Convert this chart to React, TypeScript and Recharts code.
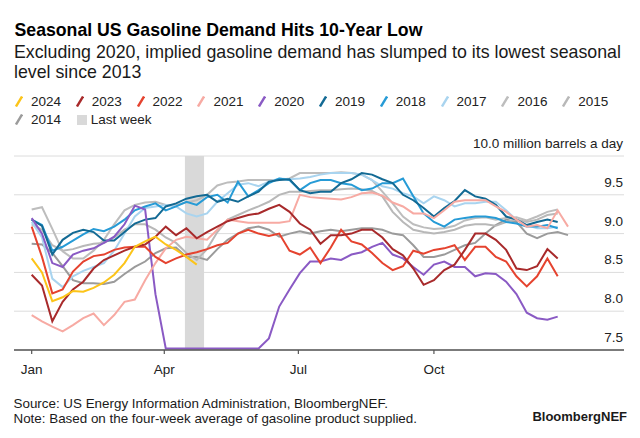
import React from 'react';
import { LineChart, Line, XAxis, YAxis, CartesianGrid, ReferenceArea } from 'recharts';

const FONT = '"Liberation Sans", Arial, Helvetica, sans-serif';

const monthTicks = [0, 90, 181, 273];
const monthLabels = ['Jan', 'Apr', 'Jul', 'Oct'];
const valueTicks = [7.5, 8, 8.5, 9, 9.5, 10];
const valueTickLabels = ['7.5', '8.0', '8.5', '9.0', '9.5', '10.0 million barrels a day'];
const lastWeekStart = 104;
const lastWeekEnd = 117;

const d2024 = [8.68, 8.5, 8.13, 8.18, 8.26, 8.25, 8.3, 8.37, 8.47, 8.62, 8.83, 8.9, 8.96, 8.86, 8.79, 8.7, 8.6];
const d2023 = [
  8.47, 8.33, 7.87, 8.12, 8.28, 8.38, 8.55, 8.66, 8.72, 8.78, 8.83,
  8.86, 8.96, 9.09, 8.98, 9.07, 8.94, 9.02, 9.09, 9.16, 9.2,
  9.24, 9.26, 9.32, 9.37, 9.28, 9.13, 9.05, 8.87, 8.98, 8.98,
  9.0, 9.05, 9.05, 8.95, 8.8, 8.72, 8.55, 8.34, 8.4, 8.53,
  8.6, 8.79, 9.0, 9.0, 8.92, 8.79, 8.55, 8.53, 8.58, 8.8, 8.68,
];
const d2022 = [
  9.09, 8.7, 8.23, 8.28, 8.51, 8.64, 8.71, 8.73, 8.79, 8.82, 8.83,
  8.83, 8.7, 8.62, 8.68, 8.73, 8.76, 8.8, 8.85, 8.88, 9.0,
  9.05, 9.0, 8.97, 9.0, 8.78, 8.73, 8.82, 8.62, 8.82, 9.05,
  8.9, 8.86, 8.75, 8.62, 8.53, 8.58, 8.78, 8.74, 8.79, 8.81,
  8.85, 8.66, 8.83, 8.83, 8.7, 8.64, 8.45, 8.32, 8.45, 8.68, 8.45,
];
const d2021 = [
  7.95, 7.87, 7.8, 7.74, 7.82, 7.91, 7.97, 7.82, 7.95, 8.12, 8.15,
  8.4, 8.62, 8.81, 8.92, 8.96, 8.94, 8.92, 9.05, 9.18, 9.16,
  9.14, 9.14, 9.14, 9.14, 9.16, 9.5, 9.47, 9.46, 9.45, 9.44,
  9.47, 9.52, 9.53, 9.49, 9.4, 9.35, 9.26, 9.26, 9.2, 9.3,
  9.41, 9.43, 9.43, 9.43, 9.35, 9.28, 9.18, 9.09, 9.11, 9.07, 9.3, 9.09,
];
const d2020 = [
  9.2, 9.0, 8.62, 8.57, 8.73, 8.78, 8.81, 8.88, 8.96, 9.12, 9.36,
  9.31, 8.22, 7.52, 7.52, 7.52, 7.52, 7.52, 7.52, 7.52, 7.52,
  7.52, 7.52, 7.65, 8.06, 8.28, 8.49, 8.64, 8.64, 8.68, 8.66,
  8.73, 8.76, 8.83, 8.88, 8.73, 8.68, 8.57, 8.47, 8.6, 8.64,
  8.57, 8.57, 8.45, 8.49, 8.48, 8.38, 8.22, 7.98, 7.91, 7.89, 7.93,
];
const d2019 = [
  9.18, 9.1, 8.73, 8.92, 9.01, 9.05, 9.02, 8.91, 8.91, 9.02, 9.13,
  9.18, 9.2, 9.35, 9.39, 9.45, 9.48, 9.5, 9.41, 9.45, 9.41,
  9.48, 9.54, 9.67, 9.69, 9.7, 9.56, 9.52, 9.54, 9.54, 9.65,
  9.7, 9.78, 9.76, 9.7, 9.65, 9.5, 9.43, 9.33, 9.22, 9.33,
  9.42, 9.56, 9.48, 9.45, 9.37, 9.22, 9.18, 9.11, 9.15, 9.18, 9.15,
];
const d2018 = [
  9.18, 9.11, 8.78, 8.83, 8.91, 8.99, 9.06, 9.03, 9.09, 9.18, 9.3,
  9.35, 9.39, 9.3, 9.35, 9.41, 9.37, 9.47, 9.5, 9.4, 9.67,
  9.48, 9.56, 9.65, 9.71, 9.69, 9.56, 9.65, 9.69, 9.69, 9.65,
  9.63, 9.56, 9.58, 9.65, 9.65, 9.71, 9.48, 9.26, 9.15, 9.09,
  9.18, 9.2, 9.22, 9.22, 9.2, 9.15, 9.13, 9.09, 9.09, 9.11, 9.07,
];
const d2017 = [
  9.15, 8.95, 8.42, 8.31, 8.45, 8.52, 8.57, 8.62, 8.78, 9.0, 9.22,
  9.33, 9.35, 9.37, 9.35, 9.26, 9.22, 9.26, 9.41, 9.52, 9.63,
  9.65, 9.61, 9.67, 9.71, 9.7, 9.71, 9.73, 9.76, 9.78, 9.78,
  9.78, 9.76, 9.69, 9.61, 9.58, 9.52, 9.48, 9.39, 9.48, 9.43,
  9.35, 9.39, 9.39, 9.41, 9.41, 9.3, 9.18, 9.11, 9.07, 9.07, 9.09,
];
const d2016 = [
  9.31, 9.34, 9.06, 8.77, 8.68, 8.68, 8.78, 8.92, 9.12, 9.3, 9.37,
  9.4, 9.41, 9.37, 9.37, 9.4, 9.43, 9.5, 9.62, 9.66, 9.67,
  9.69, 9.69, 9.69, 9.69, 9.71, 9.78, 9.78, 9.78, 9.78, 9.79,
  9.78, 9.76, 9.69, 9.54, 9.39, 9.22, 9.12, 9.08, 9.06, 9.07,
  9.1, 9.17, 9.2, 9.21, 9.18, 9.2, 9.21, 9.17, 9.22, 9.28, 9.31,
];
const d2015 = [
  9.12, 9.05, 8.85, 8.78, 8.8, 8.84, 8.87, 8.88, 8.95, 9.05, 9.12,
  9.12, 9.05, 8.95, 8.88, 8.75, 8.66, 8.8, 9.02, 9.18, 9.24,
  9.3, 9.35, 9.41, 9.5, 9.54, 9.54, 9.55, 9.56, 9.56, 9.57,
  9.58, 9.57, 9.55, 9.48, 9.28, 9.15, 9.05, 9.02, 9.0, 9.02,
  9.05, 9.1, 9.12, 9.12, 9.1, 9.15, 9.18, 9.15, 9.18, 9.24, 9.26,
];
const d2014 = [
  8.87, 8.86, 8.75, 8.58, 8.4, 8.36, 8.36, 8.35, 8.38, 8.48, 8.57,
  8.64, 8.75, 8.81, 8.82, 8.7, 8.7, 8.66, 8.8, 8.92, 9.0,
  9.07, 9.09, 9.05, 8.96, 9.0, 9.03, 9.0, 9.03, 9.05, 9.03,
  9.05, 9.07, 9.07, 9.05, 9.0, 8.98, 8.85, 8.7, 8.7, 8.73,
  8.79, 8.85, 8.88, 9.0, 9.11, 9.18, 9.15, 9.0, 8.94, 9.0, 9.02, 8.98,
];

const seriesDefs = [
  { key: 'y2014', label: '2014', color: '#9b9b9b', values: d2014 },
  { key: 'y2015', label: '2015', color: '#b8b8b8', values: d2015 },
  { key: 'y2016', label: '2016', color: '#bdbdbd', values: d2016 },
  { key: 'y2017', label: '2017', color: '#a9d4ef', values: d2017 },
  { key: 'y2018', label: '2018', color: '#269bd6', values: d2018 },
  { key: 'y2019', label: '2019', color: '#136a94', values: d2019 },
  { key: 'y2020', label: '2020', color: '#8a5ac4', values: d2020 },
  { key: 'y2021', label: '2021', color: '#f7aaa3', values: d2021 },
  { key: 'y2022', label: '2022', color: '#e5432f', values: d2022 },
  { key: 'y2023', label: '2023', color: '#a82a2b', values: d2023 },
  { key: 'y2024', label: '2024', color: '#fcc419', values: d2024 },
];

const maxLen = Math.max(...seriesDefs.map((s) => s.values.length));
const rows = Array.from({ length: maxLen }, (_, w) => {
  const row: Record<string, number> = { day: w * 7 };
  seriesDefs.forEach((s) => {
    if (w < s.values.length) row[s.key] = s.values[w];
  });
  return row;
});

const legendRow1 = ['2024', '2023', '2022', '2021', '2020', '2019', '2018', '2017', '2016', '2015'];
const legendRow2 = ['2014'];

const colorOf = (label: string) => seriesDefs.find((s) => s.label === label)!.color;

const renderYTick = (props: any) => {
  const { x, y, payload } = props;
  const i = valueTicks.indexOf(payload.value);
  return (
    <text x={x} y={y - 8} textAnchor="end" fontSize={13.5} fill="#222" fontFamily={FONT}>
      {valueTickLabels[i]}
    </text>
  );
};

const LegendItem = ({ label }: { label: string }) => (
  <div style={{ display: 'flex', alignItems: 'center', width: 60.8 }}>
    <svg width={8} height={11} style={{ marginRight: 8 }}>
      <line x1={1} y1={10.5} x2={7} y2={0.5} stroke={colorOf(label)} strokeWidth={2.4} />
    </svg>
    <span>{label}</span>
  </div>
);

export default function App() {
  return (
    <div
      style={{
        position: 'absolute',
        left: 0,
        top: 0,
        width: 640,
        height: 438,
        background: '#fff',
        fontFamily: FONT,
        color: '#1a1a1a',
        overflow: 'hidden',
      }}
    >
      <div style={{ position: 'absolute', left: 0, top: 0 }}>
        <LineChart
          width={640}
          height={438}
          data={rows}
          margin={{ top: 156, right: 16, left: 14, bottom: 58 }}
          style={{ fontFamily: FONT }}
        >
          <CartesianGrid vertical={false} stroke="#dcdcdc" strokeWidth={1} />
          <ReferenceArea x1={lastWeekStart} x2={lastWeekEnd} fill="#d9d9d9" fillOpacity={1} stroke="none" />
          <XAxis
            dataKey="day"
            type="number"
            domain={[-12, 402]}
            ticks={monthTicks}
            tickFormatter={(v: number) => monthLabels[monthTicks.indexOf(v)]}
            axisLine={{ stroke: '#555', strokeWidth: 1.5 }}
            tickLine={{ stroke: '#555', strokeWidth: 1.2 }}
            tickSize={4}
            tickMargin={10}
            height={30}
            tick={{ fontSize: 13.5, fill: '#222', fontFamily: FONT }}
            allowDataOverflow
          />
          <YAxis
            orientation="right"
            mirror
            width={1}
            domain={[7.5, 10]}
            ticks={valueTicks}
            axisLine={false}
            tickLine={false}
            tickSize={0}
            tickMargin={1}
            tick={renderYTick}
            allowDataOverflow
          />
          {seriesDefs.map((s) => (
            <Line
              key={s.key}
              dataKey={s.key}
              stroke={s.color}
              strokeWidth={2}
              dot={false}
              activeDot={false}
              isAnimationActive={false}
              type="linear"
            />
          ))}
        </LineChart>
      </div>

      <div
        style={{
          position: 'absolute',
          left: 14.5,
          top: 20,
          fontSize: 17.7,
          lineHeight: '20px',
          fontWeight: 700,
          color: '#000',
          whiteSpace: 'nowrap',
        }}
      >
        Seasonal US Gasoline Demand Hits 10-Year Low
      </div>
      <div
        style={{
          position: 'absolute',
          left: 14,
          top: 41.75,
          fontSize: 17.75,
          lineHeight: '20.5px',
          color: '#1a1a1a',
          whiteSpace: 'nowrap',
        }}
      >
        Excluding 2020, implied gasoline demand has slumped to its lowest seasonal
        <br />
        level since 2013
      </div>

      <div style={{ position: 'absolute', left: 15, top: 92.5, fontSize: 13.5, lineHeight: '18px', color: '#222' }}>
        <div style={{ display: 'flex' }}>
          {legendRow1.map((l) => (
            <LegendItem key={l} label={l} />
          ))}
        </div>
        <div style={{ display: 'flex' }}>
          {legendRow2.map((l) => (
            <LegendItem key={l} label={l} />
          ))}
          <div style={{ display: 'flex', alignItems: 'center' }}>
            <div style={{ width: 10, height: 10, background: '#d9d9d9', marginRight: 4, marginLeft: 1 }} />
            <span>Last week</span>
          </div>
        </div>
      </div>

      <div
        style={{
          position: 'absolute',
          left: 13.5,
          top: 395.5,
          fontSize: 13.4,
          lineHeight: '15.5px',
          color: '#1a1a1a',
          whiteSpace: 'nowrap',
        }}
      >
        Source: US Energy Information Administration, BloombergNEF.
        <br />
        Note: Based on the four-week average of gasoline product supplied.
      </div>
      <div
        style={{
          position: 'absolute',
          right: 13,
          top: 409,
          fontSize: 13,
          lineHeight: '16px',
          fontWeight: 700,
          color: '#1a1a1a',
          whiteSpace: 'nowrap',
        }}
      >
        BloombergNEF
      </div>
    </div>
  );
}
